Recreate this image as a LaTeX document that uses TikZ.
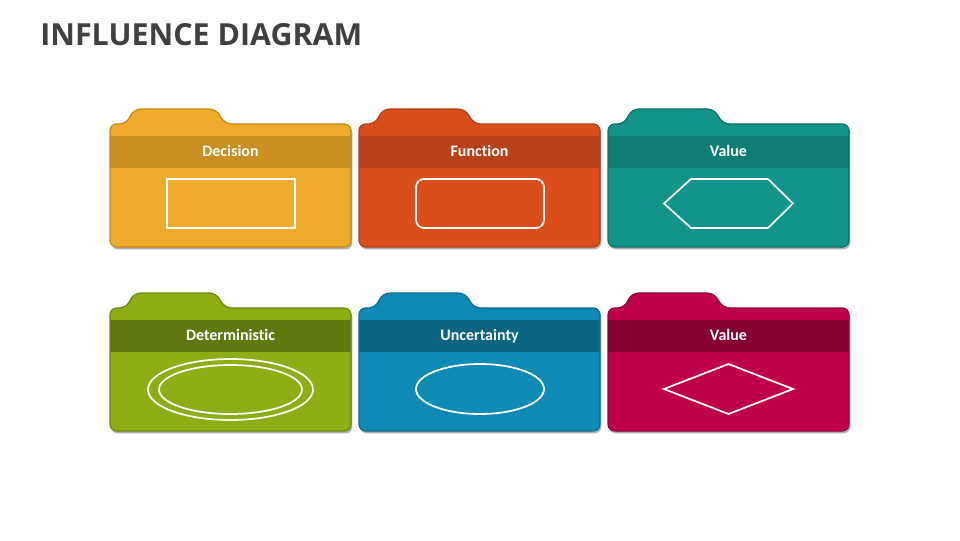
\documentclass[tikz,border=0pt]{standalone}
\usepackage{fontspec}
\setmainfont[Ligatures={NoCommon}]{Carlito}
\newfontfamily\titlefont{Open Sans}
\usetikzlibrary{shadows,shapes.geometric}
\definecolor{titlecol}{HTML}{404040}
\definecolor{decB}{HTML}{EEAA2A}\definecolor{decN}{HTML}{C98F22}\definecolor{decL}{HTML}{C48816}
\definecolor{funB}{HTML}{DA4E1B}\definecolor{funN}{HTML}{B8411A}\definecolor{funL}{HTML}{B03E14}
\definecolor{valB}{HTML}{12948A}\definecolor{valN}{HTML}{0E7D74}\definecolor{valL}{HTML}{0C7068}
\definecolor{detB}{HTML}{8AAE14}\definecolor{detN}{HTML}{5E790F}\definecolor{detL}{HTML}{6C880F}
\definecolor{uncB}{HTML}{0E8AB5}\definecolor{uncN}{HTML}{0A6582}\definecolor{uncL}{HTML}{0A6D90}
\definecolor{vtwB}{HTML}{BE0048}\definecolor{vtwN}{HTML}{860033}\definecolor{vtwL}{HTML}{96003A}
\def\fpath#1#2{(#1,#2+123) -- (#1,#2) -- (#1+16,#2) -- (#1+24,#2-15) -- (#1+106,#2-15) -- (#1+115,#2) -- (#1+241,#2) -- (#1+241,#2+123) -- cycle}
\newcommand\myfolder[7]{%
  \fill[#3, rounded corners=5pt, drop shadow={shadow xshift=1pt,shadow yshift=-1.8pt,opacity=0.3,fill=black}] \fpath{#1}{#2};
  \begin{scope}
    \clip[rounded corners=5pt] \fpath{#1}{#2};
    \fill[#4] (#1,#2+12) rectangle (#1+241,#2+44);
  \end{scope}
  \draw[#5, line width=0.9pt, rounded corners=5pt] \fpath{#1}{#2};
  \node[lbl] (#7) at (#1+120.5,#2+32) {#6};
}
\begin{document}
\begin{tikzpicture}[x=0.75pt,y=-0.75pt,
  lbl/.style={anchor=base, text=white, font=\bfseries\fontsize{12}{14}\selectfont, inner sep=0pt},
  wline/.style={draw=white, line width=1.3pt},
  ttl/.style={anchor=base west, text=titlecol, font=\titlefont\bfseries\fontsize{22.8}{27}\selectfont, inner sep=0pt}]
\fill[white] (0,0) rectangle (960,540);
\useasboundingbox (0,0) rectangle (960,540);
\node[ttl] (title) at (40,45) {INFLUENCE DIAGRAM};
\myfolder{110}{124}{decB}{decN}{decL}{Decision}{ldec}
\myfolder{359}{124}{funB}{funN}{funL}{Function}{lfun}
\myfolder{608}{124}{valB}{valN}{valL}{Value}{lval}
\myfolder{110}{308}{detB}{detN}{detL}{Deterministic}{ldet}
\myfolder{359}{308}{uncB}{uncN}{uncL}{Uncertainty}{lunc}
\myfolder{608}{308}{vtwB}{vtwN}{vtwL}{Value}{lvtw}
% inner symbols
\node[wline, rectangle, inner sep=0pt, minimum width=96pt, minimum height=36.75pt] (sdec) at (231,203.5) {};
\node[wline, rectangle, rounded corners=6pt, inner sep=0pt, minimum width=96pt, minimum height=36.75pt] (sfun) at (480,203.5) {};
\draw[wline] (664,203.5) -- (691,179) -- (768,179) -- (793,203.5) -- (768,228) -- (691,228) -- cycle;
\node[wline, ellipse, inner sep=0pt, minimum width=123.75pt, minimum height=45.75pt] (sdet1) at (230.5,389.5) {};
\node[wline, ellipse, inner sep=0pt, minimum width=107.25pt, minimum height=36.75pt] (sdet2) at (230.5,389.5) {};
\node[wline, ellipse, inner sep=0pt, minimum width=96pt, minimum height=37.5pt] (sunc) at (480,389) {};
\draw[wline] (664,389) -- (728.5,364) -- (793,389) -- (728.5,414) -- cycle;
\end{tikzpicture}
\end{document}
